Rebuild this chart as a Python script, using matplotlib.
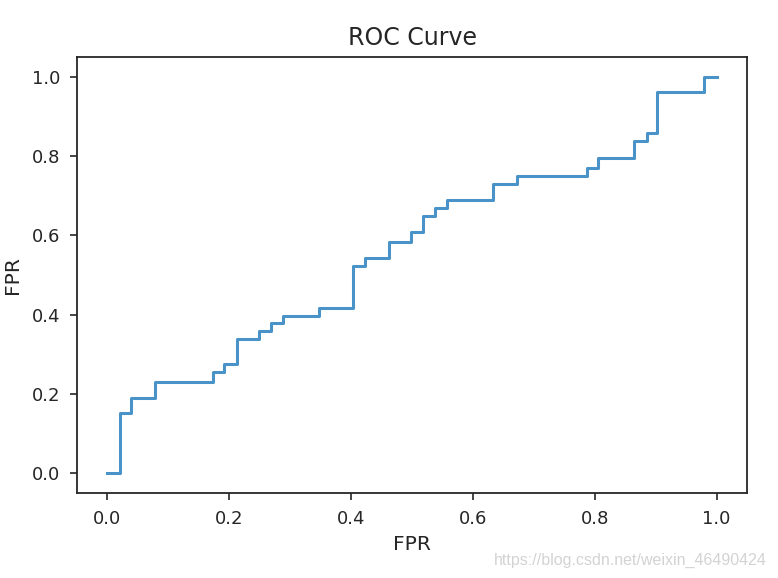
import matplotlib
matplotlib.use("Agg")
import matplotlib.pyplot as plt

fpr = [0.0, 0.020, 0.020, 0.039, 0.039, 0.078, 0.078, 0.173, 0.173, 0.192, 0.192,
       0.212, 0.212, 0.249, 0.249, 0.269, 0.269, 0.288, 0.288, 0.348, 0.348,
       0.403, 0.403, 0.423, 0.423, 0.462, 0.462, 0.498, 0.498, 0.518, 0.518,
       0.538, 0.538, 0.557, 0.557, 0.633, 0.633, 0.672, 0.672, 0.787, 0.787,
       0.806, 0.806, 0.865, 0.865, 0.885, 0.885, 0.902, 0.902, 0.980, 0.980, 1.0]
tpr = [0.0, 0.0, 0.151, 0.151, 0.190, 0.190, 0.230, 0.230, 0.256, 0.256, 0.276,
       0.276, 0.338, 0.338, 0.359, 0.359, 0.378, 0.378, 0.397, 0.397, 0.417,
       0.417, 0.523, 0.523, 0.544, 0.544, 0.584, 0.584, 0.609, 0.609, 0.650,
       0.650, 0.670, 0.670, 0.689, 0.689, 0.730, 0.730, 0.751, 0.751, 0.771,
       0.771, 0.796, 0.796, 0.837, 0.837, 0.858, 0.858, 0.962, 0.962, 1.0, 1.0]

title = "ROC Curve"
xlabel = "FPR"
ylabel = "FPR"
watermark = "https://blog.csdn.net/weixin_46490424"

W, H = 778, 578
fig = plt.figure(figsize=(W / 100, H / 100), dpi=100)
ax = fig.add_axes([77 / W, (H - 493) / H, 670 / W, 436 / H])
ax.plot(fpr, tpr, color="#4a93c8", lw=2.2)
ax.set_xticks([0.0, 0.2, 0.4, 0.6, 0.8, 1.0])
ax.set_yticks([0.0, 0.2, 0.4, 0.6, 0.8, 1.0])
ax.tick_params(labelsize=13, colors="#262626", length=5, width=1.2, pad=7)
for s in ax.spines.values():
    s.set_color("#262626")
    s.set_linewidth(1.3)
ax.set_title(title, fontsize=17, color="#262626", pad=8.5)
ax.set_xlabel(xlabel, fontsize=14.5, color="#262626", labelpad=5)
ax.set_ylabel(ylabel, fontsize=14.5, color="#262626", labelpad=7)
fig.text(767 / W, 1 - 560 / H, watermark, ha="right", va="center",
         fontsize=11.5, color="#d3d3d3", family="Liberation Sans")
fig.savefig("out.png", dpi=100)
